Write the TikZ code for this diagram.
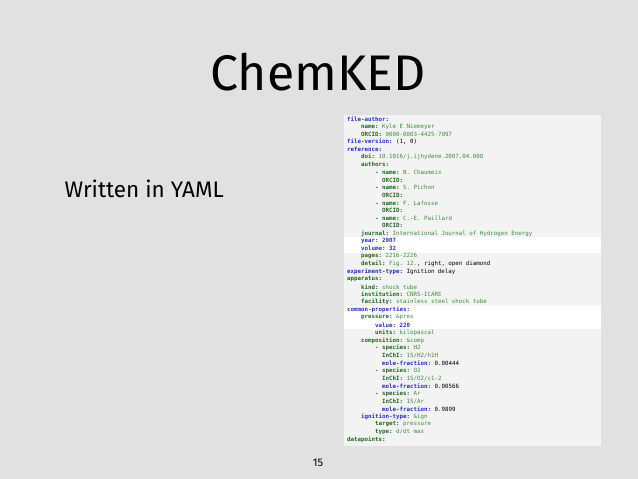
\documentclass[tikz,border=0pt]{standalone}
\usepackage{fontspec}
\setmainfont{Fira Sans}
\setmonofont{DejaVu Sans Mono}
\definecolor{bg}{HTML}{E1E1E1}
\definecolor{code}{HTML}{F3F3F3}
\definecolor{kb}{HTML}{2B2BC8}
\definecolor{kg}{HTML}{1F6A1F}
\definecolor{vg}{HTML}{3A8F3A}
\newcommand{\TK}[1]{\textcolor{kb}{\textbf{#1}}}
\newcommand{\NK}[1]{\textcolor{kg}{\textbf{#1}}}
\newcommand{\VG}[1]{\textcolor{vg}{#1}}
\newcommand{\CL}[4]{\node[codeline] (#1) at (347+3.5*#3, 119+7.63*#2-7.63) {#4};}
\tikzset{codeline/.style={anchor=west,inner sep=0pt,font=\ttfamily\fontsize{5.8}{6}\selectfont}}
\begin{document}
\begin{tikzpicture}[x=1pt,y=-1pt]
\fill[bg] (0,0) rectangle (638,479);
\useasboundingbox (0,0) rectangle (638,479);
\fill[code] (344,115) rectangle (601,446);
\fill[white] (344,119+7.63*15.5) rectangle (601,119+7.63*17.5);
\fill[white] (344,119+7.63*24.5) rectangle (601,119+7.63*27.5);
\node[font=\fontsize{50}{54}\selectfont] (title) at (318,72) {ChemKED};
\node[anchor=west,font=\fontsize{22.5}{26}\selectfont] (sub) at (61,189) {Written in YAML};
\node[font=\fontsize{11}{13}\selectfont] (page) at (318,463) {15};
\CL{l1}{1}{0}{\TK{file-author:}}
\CL{l2}{2}{4}{\NK{name:} \VG{Kyle E Niemeyer}}
\CL{l3}{3}{4}{\NK{ORCID:} \VG{0000-0003-4425-7097}}
\CL{l4}{4}{0}{\TK{file-version:} (1, 0)}
\CL{l5}{5}{0}{\TK{reference:}}
\CL{l6}{6}{4}{\NK{doi:} \VG{10.1016/j.ijhydene.2007.04.008}}
\CL{l7}{7}{4}{\NK{authors:}}
\CL{l8}{8}{8}{\NK{- name:} \VG{N. Chaumeix}}
\CL{l9}{9}{10}{\NK{ORCID:}}
\CL{l10}{10}{8}{\NK{- name:} \VG{S. Pichon}}
\CL{l11}{11}{10}{\NK{ORCID:}}
\CL{l12}{12}{8}{\NK{- name:} \VG{F. Lafosse}}
\CL{l13}{13}{10}{\NK{ORCID:}}
\CL{l14}{14}{8}{\NK{- name:} \VG{C.-E. Paillard}}
\CL{l15}{15}{10}{\NK{ORCID:}}
\CL{l16}{16}{4}{\NK{journal:} \VG{International Journal of Hydrogen Energy}}
\CL{l17}{17}{4}{\TK{year: 2007}}
\CL{l18}{18}{4}{\TK{volume: 32}}
\CL{l19}{19}{4}{\NK{pages:} \VG{2216-2226}}
\CL{l20}{20}{4}{\NK{detail:} \VG{Fig. 12.}, right, open diamond}
\CL{l21}{21}{0}{\TK{experiment-type:} Ignition delay}
\CL{l22}{22}{0}{\NK{apparatus:}}
\CL{l23}{23}{4}{\NK{kind:} \VG{shock tube}}
\CL{l24}{24}{4}{\NK{institution:} \VG{CNRS-ICARE}}
\CL{l25}{25}{4}{\NK{facility:} \VG{stainless steel shock tube}}
\CL{l26}{26}{0}{\TK{common-properties:}}
\CL{l27}{27}{4}{\NK{pressure:} \VG{\&pres}}
\CL{l28}{28}{8}{\TK{value: 220}}
\CL{l29}{29}{8}{\NK{units:} \VG{kilopascal}}
\CL{l30}{30}{4}{\NK{composition:} \VG{\&comp}}
\CL{l31}{31}{8}{\NK{- species:} \VG{H2}}
\CL{l32}{32}{10}{\NK{InChI:} \VG{1S/H2/h1H}}
\CL{l33}{33}{10}{\TK{mole-fraction:} 0.00444}
\CL{l34}{34}{8}{\NK{- species:} \VG{O2}}
\CL{l35}{35}{10}{\NK{InChI:} \VG{1S/O2/c1-2}}
\CL{l36}{36}{10}{\TK{mole-fraction:} 0.00566}
\CL{l37}{37}{8}{\NK{- species:} \VG{Ar}}
\CL{l38}{38}{10}{\NK{InChI:} \VG{1S/Ar}}
\CL{l39}{39}{10}{\TK{mole-fraction:} 0.9899}
\CL{l40}{40}{4}{\TK{ignition-type:} \VG{\&ign}}
\CL{l41}{41}{8}{\NK{target:} \VG{pressure}}
\CL{l42}{42}{8}{\NK{type:} \VG{d/dt max}}
\CL{l43}{43}{0}{\NK{datapoints:}}
\end{tikzpicture}
\end{document}
